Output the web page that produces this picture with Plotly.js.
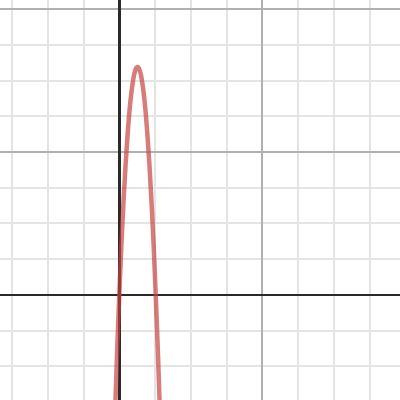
<!DOCTYPE html>
<html>
<head>
<meta charset="utf-8">
<script src="https://cdn.plot.ly/plotly-3.0.1.min.js"></script>
<style>
  html, body { margin: 0; padding: 0; background: #fff; }
  #chart { width: 400px; height: 400px; }
</style>
</head>
<body>
<div id="chart"></div>
<script>
// Points (x, y)
const curveX = [-0.06, -0.03, 0, 0.03, 0.06, 0.09, 0.12, 0.15, 0.18, 0.21, 0.24, 0.255, 0.27, 0.30, 0.33, 0.36, 0.39, 0.42, 0.45, 0.48, 0.51, 0.54, 0.57];
const curveY = [-1.68, -0.79, 0, 0.71, 1.32, 1.85, 2.29, 2.65, 2.91, 3.09, 3.18, 3.19, 3.18, 3.09, 2.91, 2.65, 2.29, 1.85, 1.32, 0.71, 0, -0.79, -1.68];

const xRange = [-1.668, 3.926];
const yRange = [-1.469, 4.126];

const trace = {
  x: curveX,
  y: curveY,
  type: 'scatter',
  mode: 'lines',
  line: { color: '#c74440', width: 4.5, shape: 'spline' },
  opacity: 0.7,
  hoverinfo: 'none'
};

function axis(range) {
  return {
    range: range,
    dtick: 2,
    tick0: 0,
    showgrid: true,
    gridcolor: '#b0b0b0',
    gridwidth: 2,
    zeroline: true,
    zerolinecolor: '#2a2a2a',
    zerolinewidth: 2.5,
    showticklabels: false,
    ticks: '',
    showline: false,
    fixedrange: true,
    minor: { dtick: 0.5, tick0: 0, showgrid: true, gridcolor: '#e4e4e4', gridwidth: 2, ticks: '' }
  };
}

const layout = {
  width: 400,
  height: 400,
  margin: { l: 0, r: 0, t: 0, b: 0, pad: 0 },
  paper_bgcolor: '#ffffff',
  plot_bgcolor: '#ffffff',
  showlegend: false,
  xaxis: axis(xRange),
  yaxis: axis(yRange)
};

Plotly.newPlot('chart', [trace], layout, { displayModeBar: false, staticPlot: true });
</script>
</body>
</html>
